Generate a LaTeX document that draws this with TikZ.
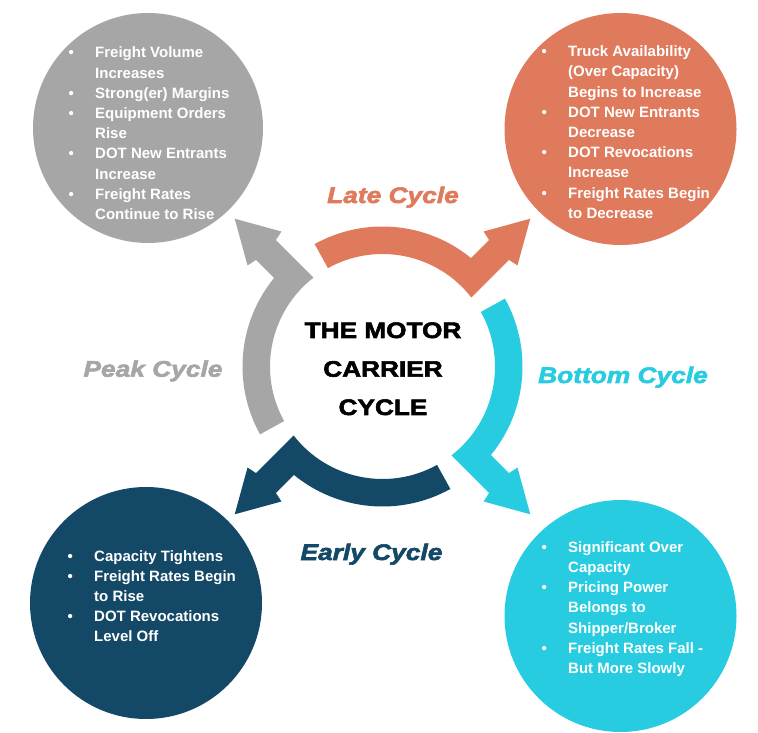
\documentclass[tikz,border=0pt]{standalone}
\usepackage{fontspec}
\setmainfont{Liberation Sans}
\newfontfamily\heavy[FakeStretch=1.17,FakeBold=2.5]{Liberation Sans}
\definecolor{gry}{HTML}{A6A6A6}
\definecolor{org}{HTML}{E07A5C}
\definecolor{dbl}{HTML}{134867}
\definecolor{cyn}{HTML}{27CCE0}
\newcommand\bul{\makebox[24pt][l]{\makebox[0pt]{\textbullet}}}
\tikzset{
  bubble/.style={circle, inner sep=0pt, minimum size=232pt},
  blist/.style={anchor=base west, inner sep=0pt, text=white, font=\fontsize{15}{20.2}\selectfont\bfseries},
  titletext/.style={anchor=base, inner sep=0pt, font=\heavy\bfseries\fontsize{22.4}{26}\selectfont},
  phase/.style={anchor=base, inner sep=0pt, font=\heavy\bfseries\itshape\fontsize{22.5}{26}\selectfont},
}
\begin{document}
\begin{tikzpicture}[x=1pt,y=1pt]
\fill[white] (0,0) rectangle (758,732);
\useasboundingbox (0,0) rectangle (758,732);
% bubbles
\node[bubble, fill=gry, minimum size=230pt] (peakc) at (148,604) {};
\node[bubble, fill=org] (latec) at (620.5,603) {};
\node[bubble, fill=dbl] (earlyc) at (146,129) {};
\node[bubble, fill=cyn] (bottomc) at (620.5,116) {};
% ring arrows
\foreach \ang/\col in {45/org, 135/gry, 225/dbl, 315/cyn}{
  \begin{scope}[shift={(382.5,365.5)}, rotate=\ang]
    \fill[\col] (74:140pt) arc[start angle=74, end angle=5.74, radius=140pt]
      -- (164.8pt,14pt) -- (166.9pt,24pt) -- (209pt,0pt) -- (166.9pt,-24pt) -- (164.8pt,-14pt)
      -- (-7.15:112.5pt) arc[start angle=-7.15, end angle=74, radius=112.5pt] -- cycle;
  \end{scope}
}
% bubble texts
\node[blist] (peakt) at (71,674) {\begin{tabular}[t]{@{}l@{}l@{}}
\bul & Freight Volume\\ & Increases\\ \bul & Strong(er) Margins\\ \bul & Equipment Orders\\ & Rise\\ \bul & DOT New Entrants\\ & Increase\\ \bul & Freight Rates\\ & Continue to Rise
\end{tabular}};
\node[blist] (latet) at (544,675.3) {\begin{tabular}[t]{@{}l@{}l@{}}
\bul & Truck Availability\\ & (Over Capacity)\\ & Begins to Increase\\ \bul & DOT New Entrants\\ & Decrease\\ \bul & DOT Revocations\\ & Increase\\ \bul & Freight Rates Begin\\ & to Decrease
\end{tabular}};
\node[blist] (earlyt) at (70,171) {\begin{tabular}[t]{@{}l@{}l@{}}
\bul & Capacity Tightens\\ \bul & Freight Rates Begin\\ & to Rise\\ \bul & DOT Revocations\\ & Level Off
\end{tabular}};
\node[blist] (bottomt) at (544,179.7) {\begin{tabular}[t]{@{}l@{}l@{}}
\bul & Significant Over\\ & Capacity\\ \bul & Pricing Power\\ & Belongs to\\ & Shipper/Broker\\ \bul & Freight Rates Fall -\\ & But More Slowly
\end{tabular}};
% centre title
\node[titletext] (title1) at (383,394) {THE MOTOR};
\node[titletext] (title2) at (383,355.3) {CARRIER};
\node[titletext] (title3) at (383,317) {CYCLE};
% phase labels
\node[phase, text=org] (latel) at (393,529) {Late Cycle};
\node[phase, text=gry] (peakl) at (153,355.3) {Peak Cycle};
\node[phase, text=cyn] (bottoml) at (623,349) {Bottom Cycle};
\node[phase, text=dbl] (earlyl) at (371.5,172) {Early Cycle};
\end{tikzpicture}
\end{document}
